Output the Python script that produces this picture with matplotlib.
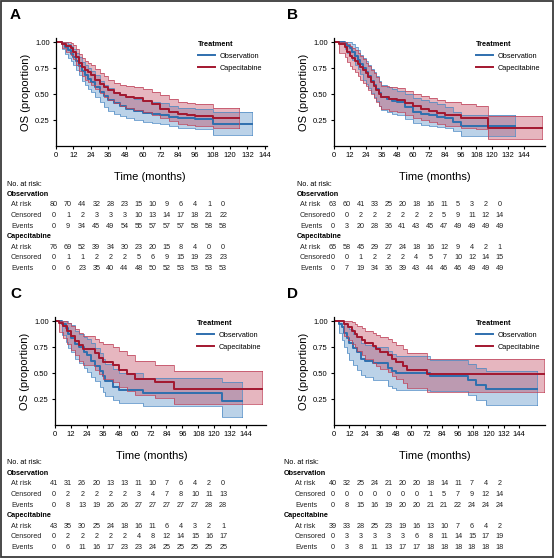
import numpy as np
import matplotlib
matplotlib.use("Agg")
import matplotlib.pyplot as plt
from matplotlib.patches import Rectangle

plt.rcParams['font.family'] = ['Liberation Sans', 'DejaVu Sans']

#---------data (months, survival)---------
# panel A
a_obs_t = [0, 4, 6, 8, 10, 12, 14, 16, 18, 20, 22, 24, 27, 30, 33, 36, 40, 44, 48, 54, 60, 66, 72, 78, 84, 96, 108, 135]
a_obs_s = [1.0, .98, .95, .92, .89, .86, .82, .77, .72, .68, .65, .62, .57, .52, .48, .44, .41, .39, .36, .34, .32, .31, .30, .28, .27, .26, .21, .21]
a_obs_lo = [1.0, .93, .89, .85, .82, .78, .73, .68, .63, .59, .55, .52, .47, .42, .38, .34, .31, .29, .27, .25, .23, .22, .21, .19, .17, .16, .11, .11]
a_obs_hi = [1.0, 1.0, 1.0, .98, .96, .93, .90, .86, .81, .78, .75, .72, .68, .63, .59, .56, .52, .50, .47, .45, .43, .42, .41, .39, .37, .36, .33, .33]
a_cap_t = [0, 4, 7, 10, 12, 14, 16, 18, 20, 22, 24, 27, 30, 33, 36, 40, 44, 48, 54, 60, 66, 72, 78, 84, 90, 96, 108, 126]
a_cap_s = [1.0, .98, .96, .94, .91, .86, .80, .76, .73, .71, .68, .64, .60, .57, .54, .51, .49, .47, .46, .43, .40, .36, .33, .31, .30, .29, .27, .27]
a_cap_lo = [1.0, .94, .91, .88, .84, .78, .72, .67, .64, .62, .59, .55, .51, .47, .44, .41, .39, .37, .35, .33, .30, .27, .24, .21, .20, .19, .17, .17]
a_cap_hi = [1.0, 1.0, 1.0, .99, .97, .93, .89, .85, .82, .80, .78, .74, .70, .67, .64, .61, .59, .58, .57, .55, .52, .49, .45, .42, .41, .40, .37, .37]

# panel B
b_obs_t = [0, 8, 10, 12, 14, 16, 18, 20, 22, 24, 26, 28, 30, 32, 34, 36, 40, 44, 48, 54, 60, 66, 72, 78, 84, 90, 96, 137]
b_obs_s = [1.0, .98, .96, .94, .91, .87, .83, .79, .75, .71, .67, .63, .59, .55, .51, .47, .45, .43, .42, .38, .33, .31, .30, .28, .27, .23, .19, .19]
b_obs_lo = [1.0, .93, .90, .87, .83, .78, .74, .69, .64, .60, .56, .51, .47, .43, .39, .35, .33, .31, .30, .26, .22, .20, .19, .18, .17, .14, .10, .10]
b_obs_hi = [1.0, 1.0, 1.0, 1.0, .98, .95, .92, .88, .85, .82, .78, .74, .71, .67, .63, .59, .57, .55, .53, .50, .46, .44, .42, .40, .38, .33, .30, .30]
b_cap_t = [0, 4, 8, 10, 12, 14, 16, 18, 20, 22, 24, 26, 28, 30, 32, 34, 36, 42, 48, 54, 60, 66, 72, 78, 84, 96, 108, 117, 158]
b_cap_s = [1.0, .98, .95, .91, .87, .85, .82, .79, .76, .73, .70, .66, .62, .58, .54, .50, .47, .45, .44, .41, .39, .36, .34, .32, .30, .27, .27, .17, .17]
b_cap_lo = [1.0, .90, .86, .81, .77, .74, .71, .67, .64, .61, .58, .54, .50, .46, .42, .39, .36, .34, .33, .30, .27, .25, .23, .21, .19, .17, .16, .07, .07]
b_cap_hi = [1.0, 1.0, 1.0, .98, .96, .94, .92, .90, .87, .84, .80, .77, .73, .70, .66, .62, .58, .57, .56, .53, .50, .48, .46, .44, .42, .40, .39, .29, .29]

# panel C
c_obs_t = [0, 5, 8, 10, 12, 15, 18, 22, 24, 27, 30, 34, 36, 38, 44, 48, 66, 126, 141]
c_obs_s = [1.0, .97, .93, .88, .84, .78, .75, .70, .67, .62, .57, .52, .47, .42, .37, .34, .31, .23, .23]
c_obs_lo = [1.0, .87, .80, .74, .70, .64, .60, .55, .51, .46, .42, .37, .32, .28, .24, .21, .18, .08, .08]
c_obs_hi = [1.0, 1.0, 1.0, .98, .96, .91, .88, .85, .83, .79, .74, .69, .64, .59, .54, .50, .45, .41, .41]
c_cap_t = [0, 3, 6, 9, 12, 15, 18, 21, 30, 33, 36, 44, 48, 54, 60, 75, 90, 156]
c_cap_s = [1.0, .98, .95, .91, .86, .81, .77, .73, .69, .65, .61, .58, .53, .49, .44, .41, .35, .35]
c_cap_lo = [1.0, .90, .84, .78, .72, .67, .62, .58, .53, .49, .44, .41, .37, .33, .29, .26, .20, .20]
c_cap_hi = [1.0, 1.0, 1.0, .98, .95, .92, .89, .86, .83, .80, .78, .75, .71, .67, .62, .58, .52, .52]

# panel D
d_obs_t = [0, 4, 6, 8, 10, 12, 15, 18, 21, 24, 30, 42, 45, 48, 75, 104, 110, 118, 158]
d_obs_s = [1.0, .97, .94, .89, .84, .79, .74, .70, .64, .62, .60, .55, .52, .50, .47, .43, .39, .35, .35]
d_obs_lo = [1.0, .89, .82, .75, .69, .63, .58, .53, .48, .46, .43, .38, .36, .34, .33, .29, .24, .19, .19]
d_obs_hi = [1.0, 1.0, 1.0, .98, .95, .92, .88, .85, .79, .77, .75, .71, .68, .66, .63, .59, .55, .52, .52]
d_cap_t = [0, 8, 11, 14, 16, 18, 22, 24, 30, 33, 36, 42, 45, 48, 54, 57, 72, 163]
d_cap_s = [1.0, .97, .94, .91, .88, .85, .82, .79, .76, .73, .70, .67, .64, .61, .57, .53, .49, .49]
d_cap_lo = [1.0, .86, .82, .78, .75, .71, .67, .64, .60, .57, .54, .51, .47, .44, .40, .36, .32, .32]
d_cap_hi = [1.0, 1.0, 1.0, .99, .97, .95, .93, .91, .89, .87, .85, .83, .80, .77, .73, .69, .64, .64]

#---------numbers at risk tables---------
row_names = ['At risk', 'Censored', 'Events']
a_obs_tab = [[80, 70, 44, 32, 28, 23, 15, 10, 9, 6, 4, 1, 0],
             [0, 1, 2, 3, 3, 3, 10, 13, 14, 17, 18, 21, 22],
             [0, 9, 34, 45, 49, 54, 55, 57, 57, 57, 58, 58, 58]]
a_cap_tab = [[76, 69, 52, 39, 34, 30, 23, 20, 15, 8, 4, 0, 0],
             [0, 1, 1, 2, 2, 2, 5, 6, 9, 15, 19, 23, 23],
             [0, 6, 23, 35, 40, 44, 48, 50, 52, 53, 53, 53, 53]]
b_obs_tab = [[63, 60, 41, 33, 25, 20, 18, 16, 11, 5, 3, 2, 0],
             [0, 0, 2, 2, 2, 2, 2, 2, 5, 9, 11, 12, 14],
             [0, 3, 20, 28, 36, 41, 43, 45, 47, 49, 49, 49, 49]]
b_cap_tab = [[65, 58, 45, 29, 27, 24, 18, 16, 12, 9, 4, 2, 1],
             [0, 0, 1, 2, 2, 2, 4, 5, 7, 10, 12, 14, 15],
             [0, 7, 19, 34, 36, 39, 43, 44, 46, 46, 49, 49, 49]]
c_obs_tab = [[41, 31, 26, 20, 13, 13, 11, 10, 7, 6, 4, 2, 0],
             [0, 2, 2, 2, 2, 2, 3, 4, 7, 8, 10, 11, 13],
             [0, 8, 13, 19, 26, 26, 27, 27, 27, 27, 27, 28, 28]]
c_cap_tab = [[43, 35, 30, 25, 24, 18, 16, 11, 6, 4, 3, 2, 1],
             [0, 2, 2, 2, 2, 2, 4, 8, 12, 14, 15, 16, 17],
             [0, 6, 11, 16, 17, 23, 23, 24, 25, 25, 25, 25, 25]]
d_obs_tab = [[40, 32, 25, 24, 21, 20, 20, 18, 14, 11, 7, 4, 2],
             [0, 0, 0, 0, 0, 0, 0, 1, 5, 7, 9, 12, 14],
             [0, 8, 15, 16, 19, 20, 20, 21, 21, 22, 24, 24, 24]]
d_cap_tab = [[39, 33, 28, 25, 23, 19, 16, 13, 10, 7, 6, 4, 2],
             [0, 3, 3, 3, 3, 3, 6, 8, 11, 14, 15, 17, 19],
             [0, 3, 8, 11, 13, 17, 17, 18, 18, 18, 18, 18, 18]]

x_ticks = np.arange(0, 145, 12)
y_ticks = [0.25, 0.50, 0.75, 1.00]

#---------styling---------
W, H = 554, 558
blue = '#2f6fae'
red = '#a3172f'
blue_fill = '#4d8ac4'
red_fill = '#bf4158'

def fx(x):
    return x / W

def fy(y):
    return 1 - y / H

fig = plt.figure(figsize=(W / 100, H / 100), dpi=100)

def km(ax, t, s, lo, hi, col, fcol, label):
    ax.fill_between(t, lo, hi, step='post', color=fcol, alpha=0.38, lw=0)
    ax.step(t, lo, where='post', color=fcol, lw=0.7, alpha=0.75)
    ax.step(t, hi, where='post', color=fcol, lw=0.7, alpha=0.75)
    ax.plot([t[-1], t[-1]], [lo[-1], hi[-1]], color=fcol, lw=0.7, alpha=0.75)
    line, = ax.step(t, s, where='post', color=col, lw=1.4, label=label)
    return line

panels = [
    ('A', 0, 0, 56, 145.5, (a_obs_t, a_obs_s, a_obs_lo, a_obs_hi), (a_cap_t, a_cap_s, a_cap_lo, a_cap_hi),
     a_obs_tab, a_cap_tab, 7, 11, 54, 14.1, 150),
    ('B', 277, 0, 334, 160, (b_obs_t, b_obs_s, b_obs_lo, b_obs_hi), (b_cap_t, b_cap_s, b_cap_lo, b_cap_hi),
     b_obs_tab, b_cap_tab, 297, 300, 333, 13.9, 435),
    ('C', 0, 279, 55, 159, (c_obs_t, c_obs_s, c_obs_lo, c_obs_hi), (c_cap_t, c_cap_s, c_cap_lo, c_cap_hi),
     c_obs_tab, c_cap_tab, 7, 11, 54, 14.1, 152),
    ('D', 277, 279, 334, 164, (d_obs_t, d_obs_s, d_obs_lo, d_obs_hi), (d_cap_t, d_cap_s, d_cap_lo, d_cap_hi),
     d_obs_tab, d_cap_tab, 284, 295, 333, 13.9, 435),
]

for (letter, dx, dy, left, xmax, obs, cap, obs_tab, cap_tab,
     head_x, lab_x, col0, col_step, time_x) in panels:
    top, bottom = 38 + dy, 146 + dy
    ax = fig.add_axes([fx(left), fy(bottom), fx(211), (bottom - top) / H])
    l1 = km(ax, *obs, blue, blue_fill, 'Observation')
    l2 = km(ax, *cap, red, red_fill, 'Capecitabine')
    ax.set_xlim(0, xmax)
    ax.set_ylim(0, 1.04)
    ax.set_xticks(x_ticks)
    ax.set_yticks(y_ticks)
    ax.set_yticklabels(['%.2f' % v for v in y_ticks])
    for side in ['top', 'right']:
        ax.spines[side].set_visible(False)
    for side in ['left', 'bottom']:
        ax.spines[side].set_linewidth(0.9)
    ax.tick_params(direction='out', length=2.5, width=0.8, labelsize=5.5, pad=2)
    ax.set_ylabel('OS (proportion)', fontsize=8, labelpad=3)
    leg = ax.legend(handles=[l1, l2], title='Treatment', loc='upper left',
                    bbox_to_anchor=(0.66, 1.0), frameon=False, fontsize=5.3,
                    title_fontproperties={'weight': 'bold', 'size': 5.3},
                    alignment='left', handlelength=2.3, handletextpad=0.6,
                    labelspacing=0.65, borderaxespad=0)

    fig.text(fx(dx + 10), fy(dy + 15), letter, fontsize=11, fontweight='bold', va='center', ha='left')
    fig.text(fx(time_x), fy(dy + 177), 'Time (months)', fontsize=8, ha='center', va='center')

    # risk table
    fs = 5.2
    fig.text(fx(head_x), fy(dy + 184), 'No. at risk:', fontsize=fs, va='center')
    y = dy + 194.5
    for name, tab in [('Observation', obs_tab), ('Capecitabine', cap_tab)]:
        fig.text(fx(head_x), fy(y), name, fontsize=fs, fontweight='bold', va='center')
        y += 10.4
        for rname, row in zip(row_names, tab):
            fig.text(fx(lab_x), fy(y), rname, fontsize=fs, va='center', color='#222222')
            for i, v in enumerate(row):
                fig.text(fx(col0 + i * col_step), fy(y), str(v), fontsize=fs,
                         ha='center', va='center', color='#222222')
            y += 10.6

# outer frame
fig.patches.append(Rectangle((fx(1), fy(557)), fx(552), (556) / H, transform=fig.transFigure,
                             fill=False, edgecolor='#3a3a3a', lw=1.3))

fig.savefig('out.png', dpi=100)
